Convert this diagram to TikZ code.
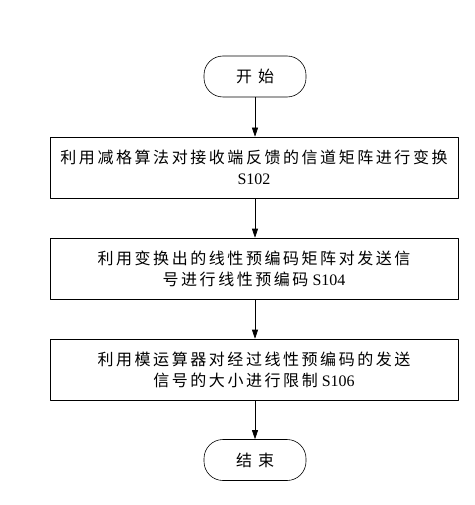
\documentclass[tikz,border=0pt]{standalone}
\usepackage{fontspec}
\setmainfont{Liberation Serif}
\newfontfamily\cjk[LetterSpace=16]{Noto Sans CJK SC}
\usetikzlibrary{arrows.meta}
\tikzset{
	stepbox/.style={draw, line width=0.6pt, minimum width=408pt, minimum height=61pt, align=center, inner sep=0pt, font=\fontsize{16}{21}\selectfont},
	termbox/.style={draw, line width=0.6pt, rounded corners=19pt, minimum width=102pt, minimum height=41pt, inner sep=0pt, font=\fontsize{16}{21}\selectfont},
	flow/.style={line width=0.6pt, -{Triangle[length=9pt,width=6pt]}}
}
\begin{document}
\begin{tikzpicture}[x=1pt, y=-1pt, line join=round]
	\useasboundingbox (0,0) rectangle (474,505);
	\node[termbox] (start) at (255,76.5) {\cjk 开\hspace{6pt}始};
	\node[stepbox] (s102) at (254,167.5) {\cjk 利用减格算法对接收端反馈的信道矩阵进行变换\\S102};
	\node[stepbox] (s104) at (254,268.5) {\cjk 利用变换出的线性预编码矩阵对发送信\\{\cjk 号进行线性预编码}\ S104};
	\node[stepbox] (s106) at (254,369.5) {\cjk 利用模运算器对经过线性预编码的发送\\{\cjk 信号的大小进行限制}\ S106};
	\node[termbox] (stop) at (255,460) {\cjk 结\hspace{6pt}束};
	\draw[flow] (start) -- (start |- s102.north);
	\draw[flow] (s102.south -| start) -- (start |- s104.north);
	\draw[flow] (s104.south -| start) -- (start |- s106.north);
	\draw[flow] (s106.south -| start) -- (stop);
\end{tikzpicture}
\end{document}
